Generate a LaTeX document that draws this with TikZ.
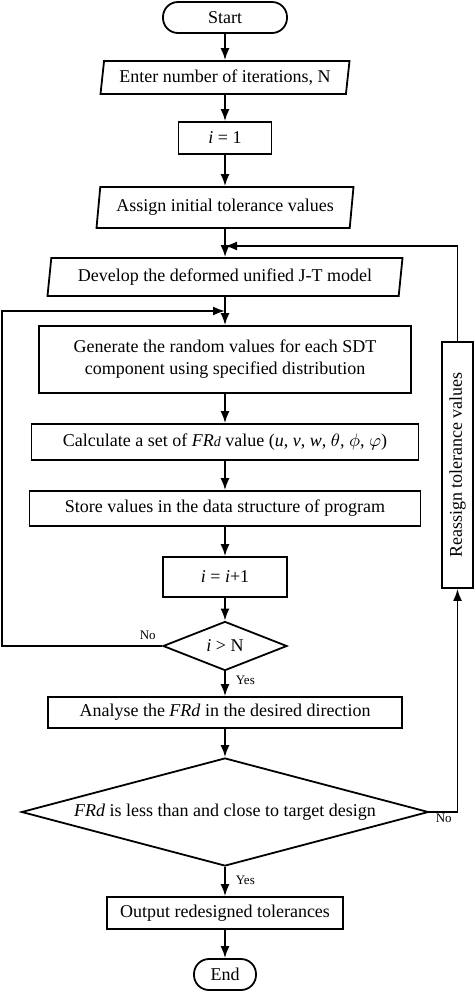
\documentclass[tikz,border=0pt]{standalone}
\usepackage{fontspec}
\setmainfont{Liberation Serif}
\usetikzlibrary{arrows.meta,shapes.geometric,positioning}

\tikzset{
  base/.style={draw,line width=0.9pt,inner sep=0pt,align=center,font=\fontsize{9}{11}\selectfont},
  term/.style={base,rectangle,rounded corners=7.5pt},
  proc/.style={base,rectangle},
  io/.style={base,trapezium,trapezium left angle=77,trapezium right angle=103,trapezium stretches body},
  dec/.style={base,diamond},
  arr/.style={line width=0.9pt,-{Latex[length=6pt,width=4.5pt]}},
  lbl/.style={font=\fontsize{6.5}{7}\selectfont,inner sep=1pt}
}

\begin{document}
\begin{tikzpicture}[x=0.5pt,y=-0.5pt]
\useasboundingbox (0,0) rectangle (474,992);
\node[term,minimum width=62pt,minimum height=15.5pt] (start) at (225,17.5) {Start};
\node[io,minimum width=124.5pt,minimum height=16.5pt] (enter) at (225,77.5) {Enter number of iterations, N};
\node[proc,minimum width=46.5pt,minimum height=16pt] (init) at (225,138) {\textit{i} = 1};
\node[io,minimum width=128.5pt,minimum height=20.5pt] (assign) at (225,207.5) {Assign initial tolerance values};
\node[io,minimum width=177.5pt,minimum height=19pt] (develop) at (225,277) {Develop the deformed unified J-T model};
\node[proc,minimum width=186pt,minimum height=33.5pt] (generate) at (225,359.5) {Generate the random values for each SDT\\component using specified distribution};
\node[proc,minimum width=193.5pt,minimum height=18pt] (calc) at (225,442) {Calculate a set of \textit{FR}{\fontsize{7}{8}\selectfont\textit{d}} value (\textit{u}, \textit{v}, \textit{w}, $\theta$, $\phi$, $\varphi$)};
\node[proc,minimum width=195.5pt,minimum height=17.5pt] (store) at (225,508.5) {Store values in the data structure of program};
\node[proc,minimum width=62pt,minimum height=20pt] (incr) at (225,577) {\textit{i} = \textit{i}+1};
\node[dec,minimum width=62pt,minimum height=23pt] (check) at (225,646) {\textit{i} {\textgreater} N};
\node[proc,minimum width=177pt,minimum height=15.5pt] (analyse) at (225,712.5) {Analyse the \textit{FRd} in the desired direction};
\node[dec,aspect=3.8,minimum width=203.5pt,minimum height=54pt] (target) at (225,812) {\textit{FRd} is less than and close to target design};
\node[proc,rotate=90,minimum width=123pt,minimum height=15.5pt] (reassign) at (457.5,465) {Reassign tolerance values};
\node[proc,minimum width=118pt,minimum height=16pt] (output) at (225,913) {Output redesigned tolerances};
\node[term,minimum width=31pt,minimum height=15.5pt] (stop) at (225,974.5) {End};
\coordinate (j1) at (225,246);
\coordinate (j2) at (225,311);

% main flow
\draw[arr] (start) -- (enter);
\draw[arr] (enter) -- (init);
\draw[arr] (init) -- (assign);
\draw[arr] (assign) -- (develop);
\draw[arr] (develop) -- (generate);
\draw[arr] (generate) -- (calc);
\draw[arr] (calc) -- (store);
\draw[arr] (store) -- (incr);
\draw[arr] (incr) -- (check);
\draw[arr] (check) -- node[lbl,right=4pt,pos=0.35] {Yes} (analyse);
\draw[arr] (analyse) -- (target);
\draw[arr] (target) -- node[lbl,right=4pt,pos=0.45] {Yes} (output);
\draw[arr] (output) -- (stop);

% loops
\draw[arr] (check.west) -- ++(-160,0) |- (j2);
\path (check.west) node[lbl,above left,xshift=-2pt,yshift=2pt] {No};
\draw[arr] (target.east) -| (reassign.west);
\path (target.east) node[lbl,below right,xshift=2pt] {No};
\draw[arr] (reassign.east) |- (j1);
\end{tikzpicture}
\end{document}
